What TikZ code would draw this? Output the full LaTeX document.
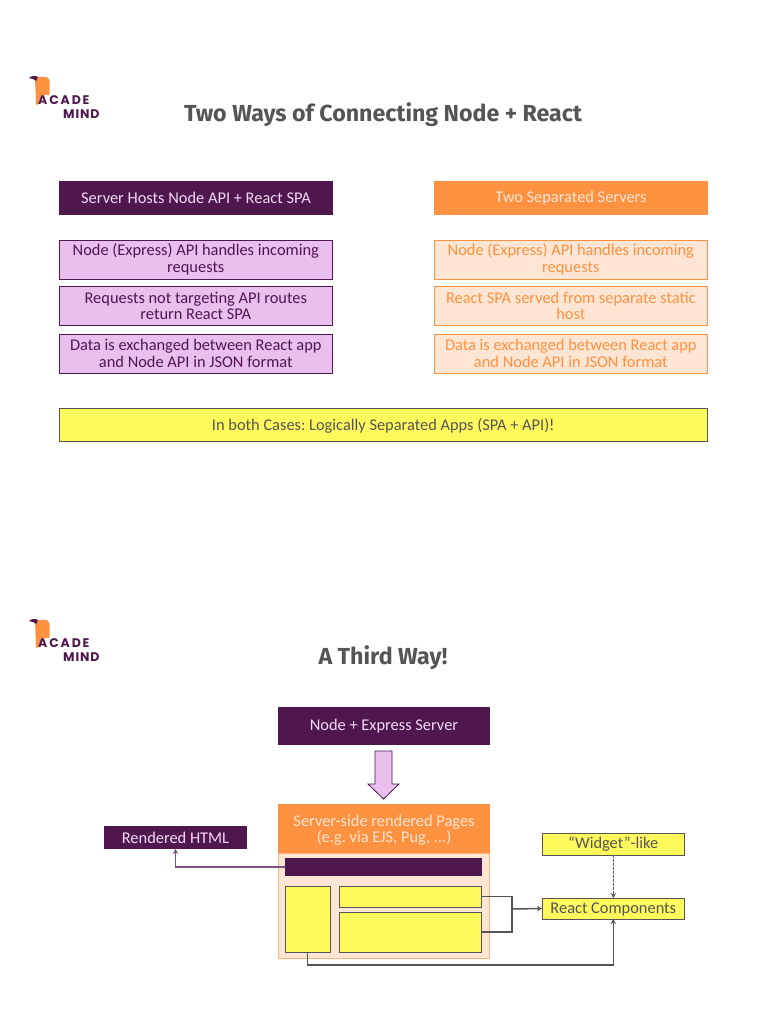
\documentclass[tikz,border=0pt]{standalone}
\usepackage{fontspec}
\setmainfont{Carlito}
\newfontfamily\titlefont{Fira Sans}[BoldFont={Fira Sans Bold}]
\newfontfamily\logofont{Poppins}[BoldFont={Poppins Bold},LetterSpace=7]
\newfontfamily\logofontw{Poppins}[BoldFont={Poppins Bold},LetterSpace=15]
\usetikzlibrary{arrows.meta}
\definecolor{purp}{HTML}{50174F}
\definecolor{pinkf}{HTML}{E9BFED}
\definecolor{pinkt}{HTML}{F3D9F5}
\definecolor{orng}{HTML}{FF9240}
\definecolor{orngl}{HTML}{FFE5D4}
\definecolor{orngb}{HTML}{FFB27A}
\definecolor{ylw}{HTML}{FFF95C}
\definecolor{gry}{HTML}{555555}
\tikzset{
  x=1pt,y=-1pt,
  base/.style={anchor=north west,inner sep=0pt,outer sep=0pt,align=center,font=\fontsize{16.4}{16.5}\selectfont\frenchspacing},
  purplebox/.style={base,fill=purp,text=pinkt},
  orangebox/.style={base,fill=orng,text=orngl},
  pinkbox/.style={base,fill=pinkf,draw=purp,line width=0.8pt,text=purp},
  peachbox/.style={base,fill=orngl,draw=orng,line width=0.8pt,text=orng},
  yellowbox/.style={base,fill=ylw,draw=gry,line width=0.9pt,text=gry},
  boxtext/.style={inner sep=0pt,align=center,font=\fontsize{16.4}{16.5}\selectfont\frenchspacing},
  titletext/.style={font=\titlefont\bfseries\fontsize{23.2}{25}\selectfont,text=gry,inner sep=0pt},
  purpleline/.style={draw=purp!75,line width=1.5pt,-{Stealth[length=5pt,width=5.5pt]}},
  grayline/.style={draw=gry,line width=1.5pt},
  grayarrow/.style={grayline,-{Stealth[length=5pt,width=5.5pt]}},
  logotext/.style={font=\logofont\bfseries\fontsize{12.5}{14}\selectfont,text=purp,inner sep=0pt},
  logowide/.style={font=\logofontw\bfseries\fontsize{12.5}{14}\selectfont,text=purp,inner sep=0pt},
}
\newcommand{\bx}[7]{\node[#1,minimum width=#4,minimum height=#5] (#6) at (#2,#3) {#7};}
\newcommand{\logo}[3]{%
  \fill[orng,rounded corners=1pt] (#1+6,#2-1) -- (#1+18,#2-1) -- (#1+20.5,#2+2) -- (#1+20.5,#2+17) -- (#1+13,#2+17) -- (#1+9,#2+27) -- (#1+7,#2+27) -- cycle;
  \fill[purp] (#1,#2) .. controls (#1+2,#2-2) and (#1+6,#2-3) .. (#1+9,#2-1) -- (#1+7,#2+3) .. controls (#1+6,#2+1) and (#1+3,#2+1) .. (#1,#2) -- cycle;
  \node[logowide,anchor=west] (#3a) at (#1+9,#2+22.5) {ACADE};
  \node[logotext,anchor=west] (#3b) at (#1+34,#2+36.5) {MIND};
}
\begin{document}
\begin{tikzpicture}
\useasboundingbox (0,0) rectangle (768,1024);
\fill[white] (0,0) rectangle (768,1024);

\logo{29}{78}{logoA}
\logo{29}{621}{logoB}

\node[titletext] (t1) at (383,115) {Two Ways of Connecting Node + React};
\node[titletext] (t2) at (383,658) {A Third Way!};

\bx{purplebox}{59}{181}{274pt}{34pt}{h1}{Server Hosts Node API + React SPA}
\bx{orangebox}{434}{181}{274pt}{34pt}{h2}{Two Separated Servers}

\bx{pinkbox}{59}{240}{273.6pt}{39pt}{p1}{Node (Express) API handles incoming\\requests}
\bx{pinkbox}{59}{286.6}{273.6pt}{39pt}{p2}{Requests not targeting API routes\\return React SPA}
\bx{pinkbox}{59}{334}{273.6pt}{39pt}{p3}{Data is exchanged between React app\\and Node API in JSON format}

\bx{peachbox}{434}{240}{273.6pt}{39pt}{o1}{Node (Express) API handles incoming\\requests}
\bx{peachbox}{434}{286.6}{273.6pt}{39pt}{o2}{React SPA served from separate static\\host}
\bx{peachbox}{434}{334}{273.6pt}{39pt}{o3}{Data is exchanged between React app\\and Node API in JSON format}

\node[yellowbox,minimum width=648.6pt,minimum height=33pt] (both) at (59,408) {};
\node[boxtext,text=gry] (bothtext) at ([yshift=-1pt]both.center) {In both Cases: Logically Separated Apps (SPA + API)!};

\bx{purplebox}{278}{707}{212pt}{38pt}{srv}{Node + Express Server}

\fill[pinkf,draw=purp,line width=0.8pt] (375,751) -- (392,751) -- (392,784) -- (399,784) -- (383.5,799) -- (368,784) -- (375,784) -- cycle;

\node[base,fill=orngl,draw=orngb,line width=0.8pt,minimum width=211.6pt,minimum height=105pt] (page) at (278,853) {};
\node[base,fill=orng,minimum width=212pt,minimum height=49pt] (ssr) at (278,804) {};
\node[boxtext,text=orngl] (ssrtext) at ([yshift=-1.5pt]ssr.center) {Server-side rendered Pages\\(e.g. via EJS, Pug, ...)};
\node[base,fill=purp,minimum width=197pt,minimum height=18pt] (bar) at (285,858) {};
\node[yellowbox,minimum width=45pt,minimum height=66pt] (yl) at (285,886) {};
\node[yellowbox,minimum width=142.6pt,minimum height=21pt] (yt) at (339,886) {};
\node[yellowbox,minimum width=142.6pt,minimum height=40pt] (yb) at (339,912) {};

\bx{purplebox}{104}{826}{143pt}{23pt}{html}{Rendered HTML}
\bx{yellowbox}{542}{833}{142.6pt}{22pt}{wid}{“Widget”-like}
\node[yellowbox,minimum width=142.6pt,minimum height=21pt] (rc) at (542,898) {};
\node[boxtext,text=gry] (rctext) at ([yshift=-1pt]rc.center) {React Components};

\coordinate (j) at (512,909);
\draw[purpleline] (bar.west) -| (html.south);
\draw[grayarrow,line width=0.9pt,dash pattern=on 2.5pt off 1.5pt] (wid.south) -- (rc.north);
\draw[grayline] (yt.east) -| (j);
\draw[grayline] (yb.east) -| (j);
\draw[grayarrow] (j) -- (rc.west);
\draw[grayarrow] (yl.south) -- ++(0,13) -| (rc.south);
\end{tikzpicture}
\end{document}
